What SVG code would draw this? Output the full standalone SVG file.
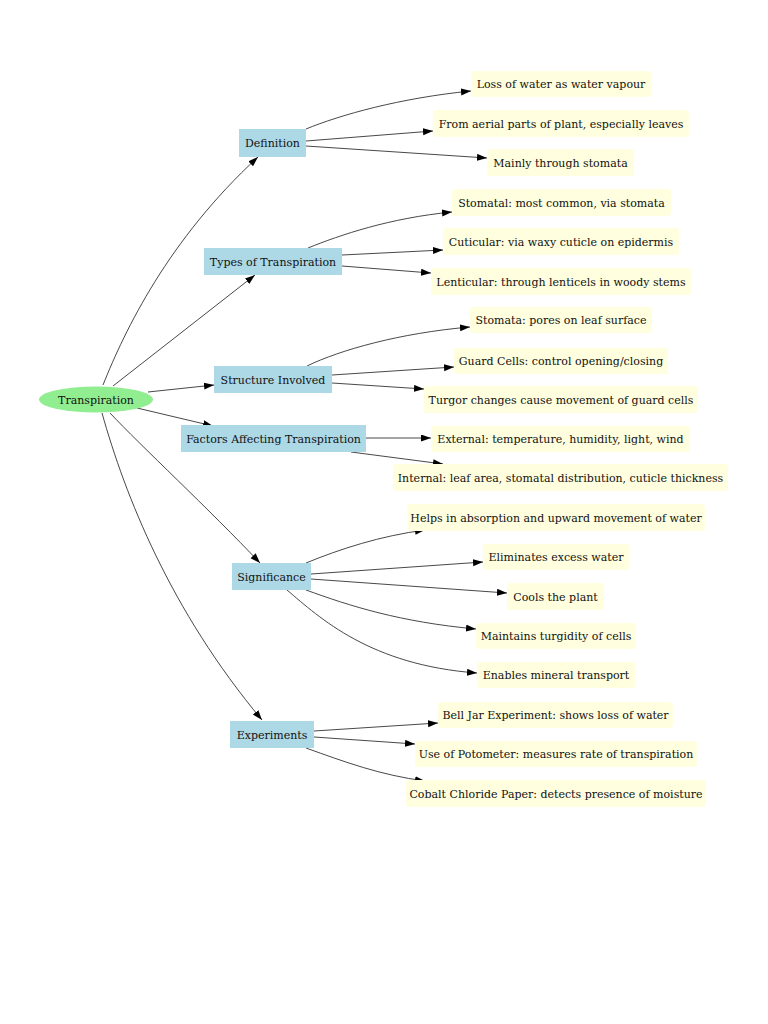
<svg xmlns="http://www.w3.org/2000/svg" width="768" height="1024" viewBox="0 0 768 1024">
<defs>
<marker id="arr" markerUnits="userSpaceOnUse" markerWidth="11" markerHeight="8" refX="10" refY="3.5" orient="auto">
<path d="M0,0 L10,3.5 L0,7 Z" fill="#000"/>
</marker>
<style>
.edge{fill:none;stroke:#333;stroke-width:0.9;marker-end:url(#arr)}
.cat{fill:#ADD8E6}
.leaf{fill:#FFFFE0}
.root{fill:#90EE90}
text{font-family:"DejaVu Serif","Liberation Serif",serif;font-size:11px;fill:#111;text-anchor:middle}
</style>
</defs>
<rect width="768" height="1024" fill="#fff"/>
<g id="connectors">
<path class="edge" d="M103,385 C125,330 168,240 258,157"/>
<path class="edge" d="M113,386 L255,275"/>
<path class="edge" d="M148,392 L214,385"/>
<path class="edge" d="M137,408 L213,426"/>
<path class="edge" d="M110,413 C140,445 210,510 260,563"/>
<path class="edge" d="M102,413 C125,495 170,610 262,720"/>
<path class="edge" d="M306,129 C340,115 400,98 471,91"/>
<path class="edge" d="M306,141 L433,131"/>
<path class="edge" d="M306,146 L487,158"/>
<path class="edge" d="M308,248 C340,235 390,218 452,212"/>
<path class="edge" d="M342,255 L443,250"/>
<path class="edge" d="M342,266 L431,273"/>
<path class="edge" d="M307,366 C340,350 400,333 470,327"/>
<path class="edge" d="M332,375 L454,367"/>
<path class="edge" d="M332,383 L424,389"/>
<path class="edge" d="M366,438 L431,438"/>
<path class="edge" d="M351,452 L443,464"/>
<path class="edge" d="M306,563 C340,549 380,536 425,530"/>
<path class="edge" d="M311,574 L483,562"/>
<path class="edge" d="M311,579 L507,593"/>
<path class="edge" d="M306,590 C350,606 400,622 476,629"/>
<path class="edge" d="M287,590 C320,618 370,665 477,673"/>
<path class="edge" d="M314,731 L438,723"/>
<path class="edge" d="M314,737 L415,744"/>
<path class="edge" d="M306,748 C345,762 380,775 425,781"/>
</g>
<g id="n-transpiration"><ellipse class="root" cx="96" cy="399.5" rx="57" ry="13"/><text x="96" y="403.5">Transpiration</text></g>
<g id="n-definition"><rect class="cat" x="239" y="129" width="67" height="28"/><text x="272.5" y="147">Definition</text></g>
<g id="n-types"><rect class="cat" x="204" y="248" width="138" height="27"/><text x="273" y="265.5">Types of Transpiration</text></g>
<g id="n-structure"><rect class="cat" x="214" y="366" width="118" height="27"/><text x="273" y="383.5">Structure Involved</text></g>
<g id="n-factors"><rect class="cat" x="181" y="425" width="185" height="27"/><text x="273.5" y="442.5">Factors Affecting Transpiration</text></g>
<g id="n-significance"><rect class="cat" x="232" y="563" width="79" height="27"/><text x="271.5" y="580.5">Significance</text></g>
<g id="n-experiments"><rect class="cat" x="230" y="721" width="84" height="27"/><text x="272" y="738.5">Experiments</text></g>
<g id="n-loss"><rect class="leaf" x="471" y="71" width="180" height="26" rx="3"/><text x="561" y="88">Loss of water as water vapour</text></g>
<g id="n-aerial"><rect class="leaf" x="433" y="110" width="256" height="27" rx="3"/><text x="561" y="127.5">From aerial parts of plant, especially leaves</text></g>
<g id="n-mainly"><rect class="leaf" x="487" y="149" width="147" height="27" rx="3"/><text x="560.5" y="166.5">Mainly through stomata</text></g>
<g id="n-stomatal"><rect class="leaf" x="452" y="189" width="219" height="27" rx="3"/><text x="561.5" y="206.5">Stomatal: most common, via stomata</text></g>
<g id="n-cuticular"><rect class="leaf" x="443" y="228" width="236" height="27" rx="3"/><text x="561" y="245.5">Cuticular: via waxy cuticle on epidermis</text></g>
<g id="n-lenticular"><rect class="leaf" x="431" y="268" width="260" height="27" rx="3"/><text x="561" y="285.5">Lenticular: through lenticels in woody stems</text></g>
<g id="n-stomata"><rect class="leaf" x="470" y="307" width="182" height="26" rx="3"/><text x="561" y="324">Stomata: pores on leaf surface</text></g>
<g id="n-guard"><rect class="leaf" x="454" y="348" width="214" height="26" rx="3"/><text x="561" y="365">Guard Cells: control opening/closing</text></g>
<g id="n-turgor"><rect class="leaf" x="424" y="386" width="274" height="27" rx="3"/><text x="561" y="403.5">Turgor changes cause movement of guard cells</text></g>
<g id="n-external"><rect class="leaf" x="431" y="426" width="259" height="26" rx="3"/><text x="560.5" y="443">External: temperature, humidity, light, wind</text></g>
<g id="n-internal"><rect class="leaf" x="393" y="464" width="335" height="27" rx="3"/><text x="560.5" y="481.5">Internal: leaf area, stomatal distribution, cuticle thickness</text></g>
<g id="n-helps"><rect class="leaf" x="407" y="504" width="298" height="27" rx="3"/><text x="556" y="521.5">Helps in absorption and upward movement of water</text></g>
<g id="n-eliminates"><rect class="leaf" x="483" y="544" width="146" height="26" rx="3"/><text x="556" y="561">Eliminates excess water</text></g>
<g id="n-cools"><rect class="leaf" x="507" y="583" width="97" height="27" rx="3"/><text x="555.5" y="600.5">Cools the plant</text></g>
<g id="n-maintains"><rect class="leaf" x="476" y="623" width="160" height="26" rx="3"/><text x="556" y="640">Maintains turgidity of cells</text></g>
<g id="n-enables"><rect class="leaf" x="477" y="662" width="158" height="26" rx="3"/><text x="556" y="679">Enables mineral transport</text></g>
<g id="n-belljar"><rect class="leaf" x="438" y="702" width="235" height="26" rx="3"/><text x="555.5" y="719">Bell Jar Experiment: shows loss of water</text></g>
<g id="n-potometer"><rect class="leaf" x="415" y="741" width="282" height="26" rx="3"/><text x="556" y="758">Use of Potometer: measures rate of transpiration</text></g>
<g id="n-cobalt"><rect class="leaf" x="406" y="780" width="300" height="27" rx="3"/><text x="556" y="797.5">Cobalt Chloride Paper: detects presence of moisture</text></g>
</svg>
